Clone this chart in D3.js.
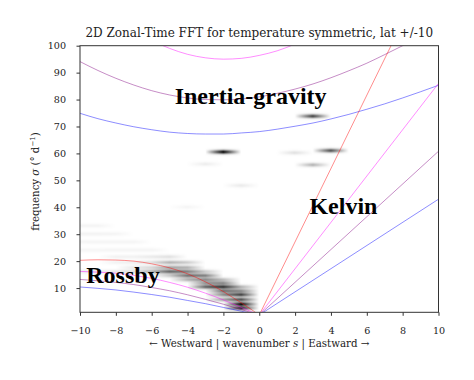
<!DOCTYPE html>
<html><head><meta charset="utf-8">
<script src="https://cdn.jsdelivr.net/npm/d3@7"></script>
<style>
html,body{margin:0;padding:0;background:#fff;}
svg text{font-family:"DejaVu Serif",serif;fill:#222;}
</style></head>
<body>
<svg id="chart" width="474" height="380"></svg>
<script>
// ---------------- data ----------------
const xTicks = [-10,-8,-6,-4,-2,0,2,4,6,8,10];
const yTicks = [10,20,30,40,50,60,70,80,90,100];

// Rossby (n=1) curves, frequency (deg/day) at wavenumber s
const rossbyS       = [-10,-9,-8,-7,-6,-5,-4,-3,-2,-1.5,-1,-0.5,0];
const rossbyRed     = [20.3,20.5,20.4,20.0,19.0,17.5,15.3,12.3,8.7,6.6,4.5,2.3,0];
const rossbyMagenta = [16.2,15.9,15.5,14.7,13.6,12.1,10.3,8.1,5.6,4.2,2.8,1.4,0];
const rossbyPurple  = [13.2,12.7,12.1,11.3,10.2,9.0,7.5,5.8,4.0,3.0,2.0,1.0,0];
const rossbyBlue    = [10.4,9.9,9.3,8.5,7.6,6.6,5.4,4.2,2.8,2.1,1.4,0.7,0];

// Inertia-gravity (n=1) curves
const igS       = [-10,-9,-8,-7,-6,-5,-4,-3,-2,-1,0,1,2,3,4,5,6,7,8,9,10];
const igMagenta = [120.3,114.9,109.9,105.6,101.9,99.0,96.8,95.5,95.0,95.3,96.4,98.1,100.6,103.5,107.0,111.0,115.5,120.5,126.0,132.0,138.5];
const igPurple  = [94.1,90.8,87.9,85.4,83.3,81.7,80.6,80.0,79.9,80.2,81.0,82.3,83.9,85.8,88.1,90.7,93.5,96.7,100.0,103.5,107.2];
const igBlue    = [74.9,72.9,71.3,69.9,68.8,67.9,67.4,67.2,67.2,67.6,68.1,69.0,70.1,71.3,72.8,74.5,76.4,78.4,80.6,82.9,85.3];

// Kelvin lines: frequency at s = 0 and s = 10
const kelvinS       = [0,10];
const kelvinRed     = [0,136];
const kelvinMagenta = [0,86];
const kelvinPurple  = [0,60.8];
const kelvinBlue    = [0,43];

// Spectral power peaks: wavenumber, frequency, relative power
const peakS = [
  -1,-1,-1,-2,-1,-2,-1,-2,
  -1,-2,-3,-2,-3,-2,-3,-4,
  -3,-4,-5,
  -3,-4,-5,-6,-7,-8,-9,-10,
  -4,-5,-6,-7,
  -4,-5,-6,-7,-8,
  -5,-6,-7,-8,
  -6,-7,-8,-9,-10,
  -7,-8,-9,-10,
  -8,-9,-10,
  -9,-10,
  -2,4,2,3,-3,-1,3,-4];
const peakF = [
  2.4,3.9,5.6,5.6,7.4,7.4,8.8,8.8,
  10.3,10.3,10.3,11.7,11.7,13.0,13.0,13.0,
  14.5,14.5,14.5,
  16.0,16.0,16.0,16.0,16.0,16.0,16.0,16.0,
  17.5,17.5,17.5,17.5,
  19.4,19.4,19.4,19.4,19.4,
  21.5,21.5,21.5,21.5,
  24.0,24.0,24.0,24.0,24.0,
  27.0,27.0,27.0,27.0,
  30.0,30.0,30.0,
  33.0,33.0,
  60.5,61.0,60.2,55.7,56.0,48.0,73.8,40.0];
const peakP = [
  0.85,1.0,0.7,0.35,0.75,0.45,0.45,0.55,
  0.3,0.8,0.6,0.45,0.4,0.25,0.45,0.3,
  0.5,0.55,0.2,
  0.2,0.5,0.6,0.3,0.12,0.08,0.07,0.07,
  0.3,0.35,0.15,0.08,
  0.2,0.3,0.12,0.06,0.05,
  0.12,0.08,0.05,0.05,
  0.04,0.04,0.04,0.035,0.035,
  0.04,0.04,0.04,0.035,
  0.04,0.045,0.045,
  0.04,0.04,
  1.0,0.7,0.12,0.3,0.07,0.08,0.75,0.04];

// ---------------- layout ----------------
const W = 474, H = 380;
const m = {l:80, r:35.5, t:45.7, b:67.7};
const pw = W - m.l - m.r, ph = H - m.t - m.b;

const svg = d3.select("#chart");
const x = d3.scaleLinear().domain([-10,10]).range([m.l, W - m.r]);
const y = d3.scaleLinear().domain([1,100]).range([H - m.b, m.t]);

// ---------------- heatmap (gray_r) ----------------
const cw = Math.round(pw), chh = Math.round(ph);
const canvas = document.createElement("canvas");
canvas.width = cw; canvas.height = chh;
const ctx = canvas.getContext("2d");
const img = ctx.createImageData(cw, chh);
for (let py = 0; py < chh; py++) {
  const f = y.invert(m.t + py + 0.5);
  for (let px = 0; px < cw; px++) {
    const s = x.invert(m.l + px + 0.5);
    let v = 0;
    for (let i = 0; i < peakS.length; i++) {
      const ds = Math.abs(s - peakS[i]);
      if (ds >= 1) continue;
      const df = (f - peakF[i]) / 0.5;
      if (Math.abs(df) > 5) continue;
      v += peakP[i] * (1 - ds) * Math.exp(-0.5 * df * df);
    }
    v = Math.min(1, v);
    const gv = Math.round(255 * (1 - v));
    const k = (py * cw + px) * 4;
    img.data[k] = gv; img.data[k+1] = gv; img.data[k+2] = gv; img.data[k+3] = 255;
  }
}
ctx.putImageData(img, 0, 0);
svg.append("image")
  .attr("x", m.l).attr("y", m.t).attr("width", pw).attr("height", ph)
  .attr("preserveAspectRatio", "none")
  .attr("href", canvas.toDataURL());

// ---------------- curves ----------------
svg.append("clipPath").attr("id","clip").append("rect")
  .attr("x", m.l).attr("y", m.t).attr("width", pw).attr("height", ph);
const g = svg.append("g").attr("clip-path","url(#clip)");
const line = d3.line().x(d => x(d[0])).y(d => y(d[1])).curve(d3.curveMonotoneX);

const series = [
  {s: rossbyS, v: rossbyRed, c: "#ff0000"},
  {s: rossbyS, v: rossbyMagenta, c: "#ff00ff"},
  {s: rossbyS, v: rossbyPurple, c: "#800080"},
  {s: rossbyS, v: rossbyBlue, c: "#0000ff"},
  {s: igS, v: igMagenta, c: "#ff00ff"},
  {s: igS, v: igPurple, c: "#800080"},
  {s: igS, v: igBlue, c: "#0000ff"},
  {s: kelvinS, v: kelvinRed, c: "#ff0000"},
  {s: kelvinS, v: kelvinMagenta, c: "#ff00ff"},
  {s: kelvinS, v: kelvinPurple, c: "#800080"},
  {s: kelvinS, v: kelvinBlue, c: "#0000ff"}
];
g.selectAll("path.curve").data(series).join("path")
  .attr("class","curve")
  .attr("fill","none")
  .attr("stroke", d => d.c)
  .attr("stroke-opacity", 0.5)
  .attr("stroke-width", 0.9)
  .attr("d", d => line(d.s.map((s,i) => [s, d.v[i]])));

// ---------------- axes ----------------
const xAxis = svg.append("g").attr("transform", `translate(0,${H - m.b})`)
  .call(d3.axisBottom(x).tickValues(xTicks).tickSize(3.5).tickPadding(11).tickFormat(d3.format("d")));
const yAxis = svg.append("g").attr("transform", `translate(${m.l},0)`)
  .call(d3.axisLeft(y).tickValues(yTicks).tickSize(3.5).tickPadding(10.5).tickFormat(d3.format("d")));
[xAxis, yAxis].forEach(a => {
  a.select(".domain").remove();
  a.selectAll(".tick line").attr("stroke","#333").attr("stroke-width",1);
  a.selectAll(".tick text").attr("font-family","DejaVu Serif").attr("font-size",9.6).attr("fill","#222");
});
svg.append("rect").attr("x", m.l).attr("y", m.t).attr("width", pw).attr("height", ph)
  .attr("fill","none").attr("stroke","#333").attr("stroke-width",1);

// ---------------- texts ----------------
function fitWidth(sel, target, base) {
  const len = sel.node().getComputedTextLength();
  if (len > 0) sel.attr("font-size", Math.max(8, Math.min(14, base * target / len)));
}
const title = svg.append("text").attr("x", (m.l + W - m.r)/2).attr("y", 36.7)
  .attr("text-anchor","middle").attr("font-size", 12)
  .text("2D Zonal-Time FFT for temperature symmetric, lat +/-10");
fitWidth(title, 348, 12);

const xl = svg.append("text").attr("x", (m.l + W - m.r)/2).attr("y", 347)
  .attr("text-anchor","middle").attr("font-size", 10.2);
xl.append("tspan").text("\u2190 Westward | wavenumber ");
xl.append("tspan").attr("font-style","italic").text("s");
xl.append("tspan").text(" | Eastward \u2192");
fitWidth(xl, 220, 10.2);

const yl = svg.append("text").attr("transform","translate(38.7,181.5) rotate(-90)")
  .attr("text-anchor","middle").attr("font-size", 10.2);
yl.append("tspan").text("frequency ");
yl.append("tspan").attr("font-style","italic").text("\u03c3");
yl.append("tspan").text(" (\u00b0 d");
yl.append("tspan").attr("font-size",7).attr("dy",-4).text("\u22121");
yl.append("tspan").attr("dy",4).text(")");

const big = (t, sx, sy) => svg.append("text").attr("x", x(sx)).attr("y", y(sy))
  .style("font-family","'Liberation Serif',serif")
  .attr("font-weight","bold").attr("font-size", 24).style("fill","#000").text(t);
big("Inertia-gravity", -4.72, 78.3);
big("Kelvin", 2.8, 37.4);
big("Rossby", -9.65, 12.0);
</script>
</body></html>
